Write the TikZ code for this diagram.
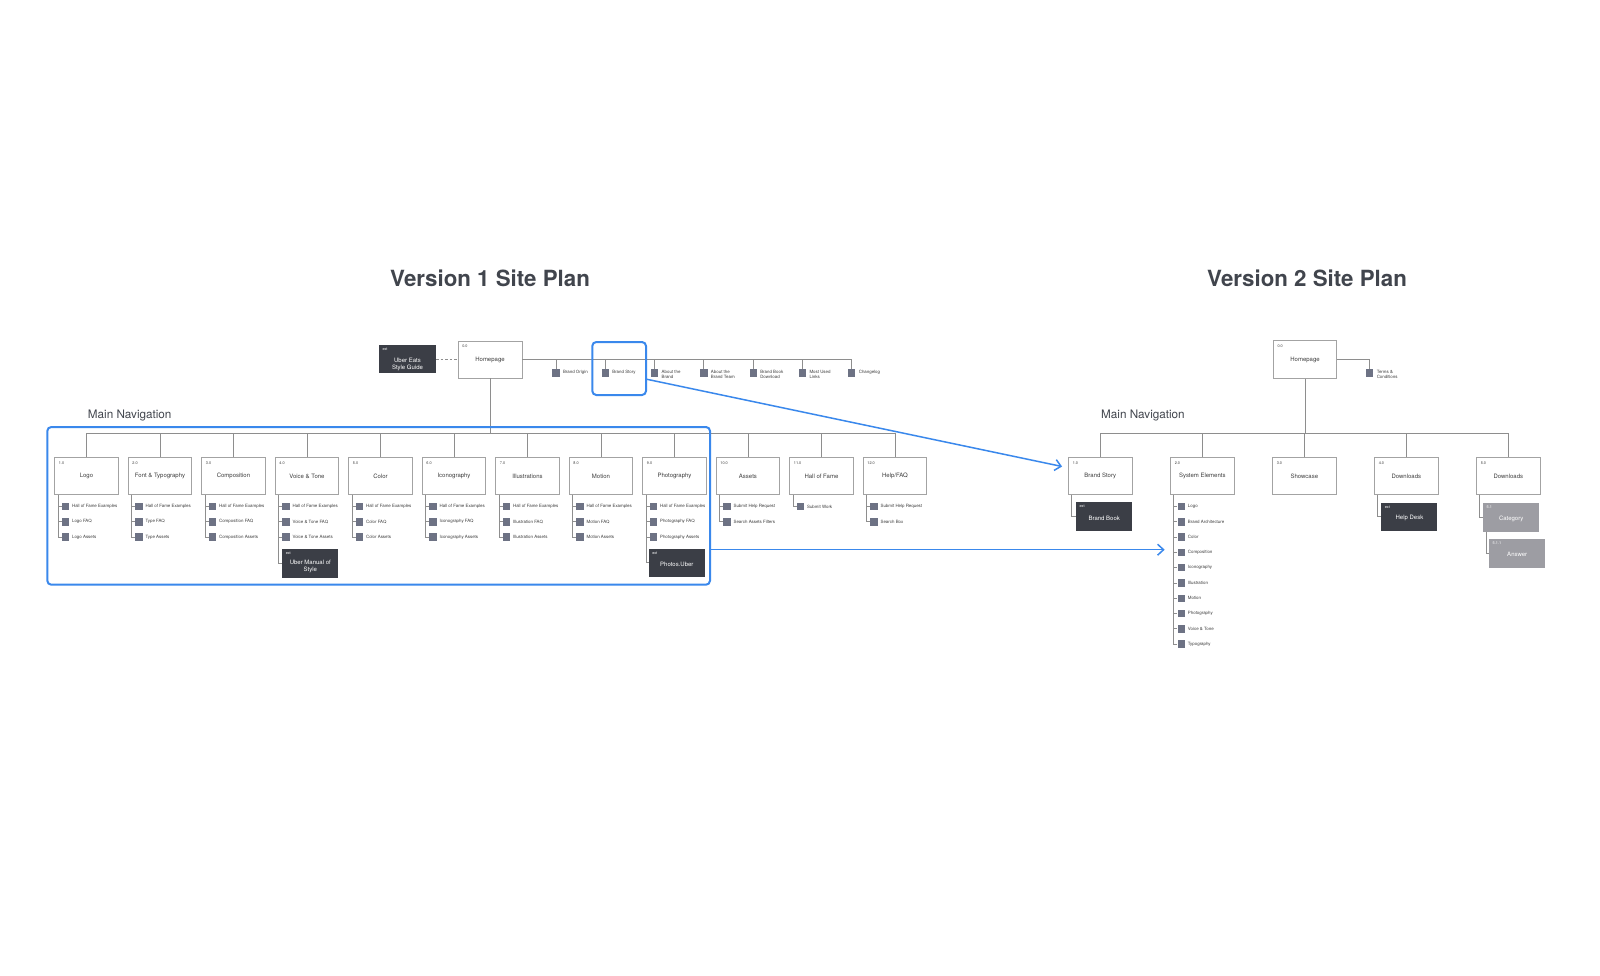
\documentclass[tikz,border=0pt]{standalone}
\usepackage{fontspec}
\setmainfont{TeX Gyre Heros}
\usetikzlibrary{calc,arrows.meta}
\definecolor{lnc}{HTML}{8E8E8E}
\definecolor{bxc}{HTML}{A3A3A3}
\definecolor{sqc}{HTML}{6D7284}
\definecolor{exc}{HTML}{3B3E46}
\definecolor{gyc}{HTML}{9D9DA3}
\definecolor{txc}{HTML}{3D3D3D}
\definecolor{tlc}{HTML}{41454D}
\definecolor{blc}{HTML}{3A88EC}
\tikzset{
  conn/.style={draw=lnc, line width=0.9pt},
  pgbox/.style={draw=bxc, line width=0.9pt, fill=white, minimum width=63.5pt, minimum height=37.5pt, inner sep=0pt, font=\fontsize{6}{7}\selectfont, text=txc},
  num/.style={anchor=north west, inner sep=0pt, font=\fontsize{3.8}{4.5}\selectfont, text=txc},
  sq/.style={fill=sqc, minimum size=7.5pt, inner sep=0pt},
  kid/.style={anchor=west, inner sep=0pt, font=\fontsize{4.4}{5.1}\selectfont, text=txc, align=left},
  extbox/.style={fill=exc, minimum width=56pt, minimum height=28.5pt, inner sep=0pt},
  gbox/.style={extbox, fill=gyc},
  exttxt/.style={inner sep=0pt, text=white, font=\fontsize{6}{7}\selectfont, align=center},
  hlbox/.style={draw=blc, line width=2pt, rounded corners=4pt, inner sep=0pt},
  barrow/.style={draw=blc, line width=1.5pt, -{Straight Barb[length=6pt,width=11pt]}},
  ttl/.style={font=\fontsize{22.3}{26}\selectfont\bfseries, text=tlc},
  mnav/.style={font=\fontsize{11.7}{14}\selectfont, text=tlc, anchor=west, inner sep=0pt},
}
\newcommand\sitekids[2]{\foreach \kt [count=\ki] in {#2}{%
  \node[sq] (#1k\ki) at ($(#1.south west)+(11.2,11.3+15.3*\ki-15.3)$) {};
  \node[kid] (#1t\ki) at ($(#1k\ki.east)+(2.5,0)$) {\kt};
  \draw[conn] ($(#1.south west)+(3.7,0)$) |- (#1k\ki.west);}}
\begin{document}
\begin{tikzpicture}[x=1pt,y=-1pt]
\fill[white] (0,0) rectangle (1600,975);
\useasboundingbox (0,0) rectangle (1600,975);

% titles
\node[ttl] (t1) at (490,278.3) {Version 1 Site Plan};
\node[ttl] (t2) at (1307,278.3) {Version 2 Site Plan};
\node[mnav] (mn1) at (87.7,415.7) {Main Navigation};
\node[mnav] (mn2) at (1101,415.7) {Main Navigation};

% ---------- Version 1 ----------
\node[pgbox, minimum width=64pt, minimum height=37pt] (hp1) at (490,359.5) {Homepage};
\node[num] (hp1n) at ($(hp1.north west)+(4.5,4.5)$) {0.0};

\node[extbox, minimum width=57pt, minimum height=28pt] (ueg) at (407.5,359) {};
\node[num, text=white] (uegn) at ($(ueg.north west)+(3.5,3)$) {ext};
\node[exttxt] (uegt) at ($(ueg.center)+(0,5)$) {Uber Eats\\Style Guide};
\draw[conn, dash pattern=on 2.5pt off 2pt] (ueg.east) -- (ueg.east -| hp1.west);

\foreach \tt [count=\j from 0] in {Brand Origin, Brand Story, {About the\\Brand}, {About the\\Brand Team}, {Brand Book\\Download}, {Most Used\\Links}, Changelog}{
  \node[sq, minimum size=7.3pt] (top\j) at (556+49.3*\j,373) {};
  \node[kid, anchor=north west] (top\j t) at ($(top\j.north east)+(3,0.6)$) {\tt};
  \draw[conn] (hp1.east) -| (top\j.north);
}

\coordinate (nav1) at ($(hp1.south)+(0,55)$);
\draw[conn] (hp1.south) -- (nav1);
\foreach \nn/\tt [count=\k from 0] in {1.0/Logo, 2.0/Font \& Typography, 3.0/Composition, 4.0/Voice \& Tone, 5.0/Color, 6.0/Iconography, 7.0/Illustrations, 8.0/Motion, 9.0/Photography, 10.0/Assets, 11.0/Hall of Fame, 12.0/{Help/FAQ}}{
  \node[pgbox] (v1b\k) at (86.45+73.5*\k,476) {\tt};
  \node[num] (v1b\k n) at ($(v1b\k.north west)+(4.5,4.5)$) {\nn};
  \draw[conn] (v1b\k.north) |- (nav1);
}

\sitekids{v1b0}{Hall of Fame Examples, Logo FAQ, Logo Assets}
\sitekids{v1b1}{Hall of Fame Examples, Type FAQ, Type Assets}
\sitekids{v1b2}{Hall of Fame Examples, Composition FAQ, Composition Assets}
\sitekids{v1b3}{Hall of Fame Examples, Voice \& Tone FAQ, Voice \& Tone Assets}
\sitekids{v1b4}{Hall of Fame Examples, Color FAQ, Color Assets}
\sitekids{v1b5}{Hall of Fame Examples, Iconography FAQ, Iconography Assets}
\sitekids{v1b6}{Hall of Fame Examples, Illustration FAQ, Illustration Assets}
\sitekids{v1b7}{Hall of Fame Examples, Motion FAQ, Motion Assets}
\sitekids{v1b8}{Hall of Fame Examples, Photography FAQ, Photography Assets}
\sitekids{v1b9}{Submit Help Request, Search Assets Filters}
\sitekids{v1b10}{Submit Work}
\sitekids{v1b11}{Submit Help Request, Search Box}

\node[extbox] (umos) at (310.3,563.3) {};
\node[num, text=white] (umosn) at ($(umos.north west)+(3.5,3)$) {ext};
\node[exttxt] (umost) at ($(umos.center)+(0,3.5)$) {Uber Manual of\\Style};
\draw[conn] ($(v1b3.south west)+(3.7,0)$) |- (umos.west);

\node[extbox] (pu) at (676.8,562.9) {};
\node[num, text=white] (pun) at ($(pu.north west)+(3.5,3)$) {ext};
\node[exttxt] (put) at ($(pu.center)+(0,1.5)$) {Photos.Uber};
\draw[conn] ($(v1b8.south west)+(3.7,0)$) |- (pu.west);

% ---------- Version 2 ----------
\node[pgbox] (hp2) at (1305,359.5) {Homepage};
\node[num] (hp2n) at ($(hp2.north west)+(4.5,4.5)$) {0.0};
\node[sq, minimum size=7.3pt] (terms) at (1369.7,373) {};
\node[kid, anchor=north west] (termst) at ($(terms.north east)+(3,0.6)$) {Terms \&\\Conditions};
\draw[conn] (hp2.east) -| (terms.north);

\coordinate (nav2) at ($(hp2.south)+(0,55)$);
\draw[conn] (hp2.south) -- (nav2);
\foreach \nn/\tt [count=\k from 0] in {1.0/Brand Story, 2.0/System Elements, 3.0/Showcase, 4.0/Downloads, 5.0/Downloads}{
  \node[pgbox] (v2b\k) at (1100.3+102*\k,476) {\tt};
  \node[num] (v2b\k n) at ($(v2b\k.north west)+(4.5,4.5)$) {\nn};
  \draw[conn] (v2b\k.north) |- (nav2);
}
\sitekids{v2b1}{Logo, Brand Architecture, Color, Composition, Iconography, Illustration, Motion, Photography, Voice \& Tone, Typography}

\node[extbox] (bb) at (1104.2,516.6) {};
\node[num, text=white] (bbn) at ($(bb.north west)+(3.5,3)$) {ext};
\node[exttxt] (bbt) at ($(bb.center)+(0,1.5)$) {Brand Book};
\draw[conn] ($(v2b0.south west)+(3.7,0)$) |- (bb.west);

\node[extbox] (hd) at (1409.4,516.9) {};
\node[num, text=white] (hdn) at ($(hd.north west)+(3.5,3)$) {ext};
\node[exttxt] (hdt) at ($(hd.center)+(0,1.5)$) {Help Desk};
\draw[conn] ($(v2b3.south west)+(3.7,0)$) |- (hd.west);

\node[gbox] (cat) at (1511.2,517.5) {};
\node[num, text=white] (catn) at ($(cat.north west)+(3.5,3)$) {5.1};
\node[exttxt] (catt) at ($(cat.center)+(0,1)$) {Category};
\draw[conn] ($(v2b4.south west)+(3.5,0)$) |- (cat.west);

\node[gbox] (ans) at (1517.2,553.3) {};
\node[num, text=white] (ansn) at ($(ans.north west)+(3.5,3)$) {5.1.1};
\node[exttxt] (anst) at ($(ans.center)+(0,1)$) {Answer};
\draw[conn] ($(cat.south west)+(3.4,0)$) |- (ans.west);

% ---------- highlights and arrows ----------
\node[hlbox, minimum width=662.7pt, minimum height=157.7pt] (hl1) at (378.65,505.85) {};
\node[hlbox, minimum width=53.7pt, minimum height=53pt] (hl2) at (619.15,368.5) {};
\coordinate (a1end) at ($(v2b0.west)+(-6,-9.5)$);
\draw[barrow] ($(hl2.east)+(0,10.8)$) -- (a1end);
\coordinate (a2end) at ($(v2b1k4.west)+(-12.7,-2.7)$);
\draw[barrow] (hl1.east |- a2end) -- (a2end);
\end{tikzpicture}
\end{document}
